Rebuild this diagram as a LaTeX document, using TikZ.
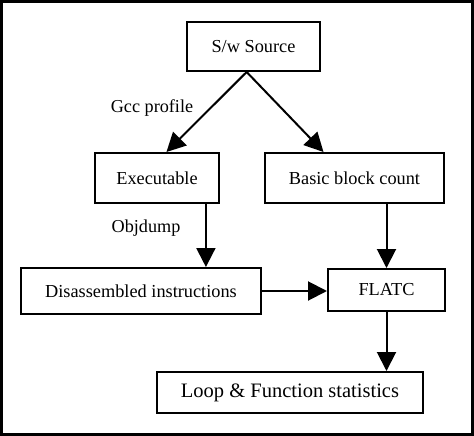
\documentclass[tikz,border=0pt]{standalone}
\usepackage{fontspec}
\setmainfont{Liberation Serif}
\usetikzlibrary{arrows.meta}

\tikzset{
    box/.style={rectangle, draw, line width=2pt, inner sep=0pt, font=\fontsize{18.3}{22}\selectfont},
    lbl/.style={inner sep=0pt, font=\fontsize{18.2}{22}\selectfont},
    arr/.style={-{Triangle[length=19pt, width=19pt]}, line width=2pt}
}

\begin{document}
\begin{tikzpicture}[x=1pt, y=-1pt]
        \useasboundingbox (0, 0) rectangle (474, 436);
        % Frame
        \draw[line width=3pt] (1.5, 1.5) rectangle (472.5, 434.5);

        % Nodes
        \node[box, minimum width=133pt, minimum height=49pt] (src) at (253.5, 46.5) {S/w Source};
        \node[box, minimum width=124pt, minimum height=50pt] (exe) at (157, 178) {Executable};
        \node[box, minimum width=179pt, minimum height=50pt] (bbc) at (354.5, 178) {Basic block count};
        \node[box, minimum width=240pt, minimum height=46pt] (dis) at (141, 291) {Disassembled instructions};
        \node[box, minimum width=117pt, minimum height=42pt] (flatc) at (386.5, 290) {FLATC};
        \node[box, minimum width=266pt, minimum height=41pt, font=\fontsize{20.5}{24}\selectfont] (stats) at (290, 392.5) {Loop \& Function statistics};

        % Labels
        \node[lbl] (gcc) at (152, 108) {Gcc profile};
        \node[lbl] (objdump) at (146, 228) {Objdump};

        % Arrows
        \draw[arr] (src.255) -- (exe.70);
        \draw[arr] (src.255) -- (bbc.140);
        \draw[arr] (exe.-28.5) -- (exe.-28.5 |- dis.north);
        \draw[arr] (bbc.south -| flatc.north) -- (flatc.north);
        \draw[arr] (dis.east) -- (dis.east -| flatc.west);
        \draw[arr] (flatc.south) -- (flatc.south |- stats.north);
    \end{tikzpicture}
\end{document}
